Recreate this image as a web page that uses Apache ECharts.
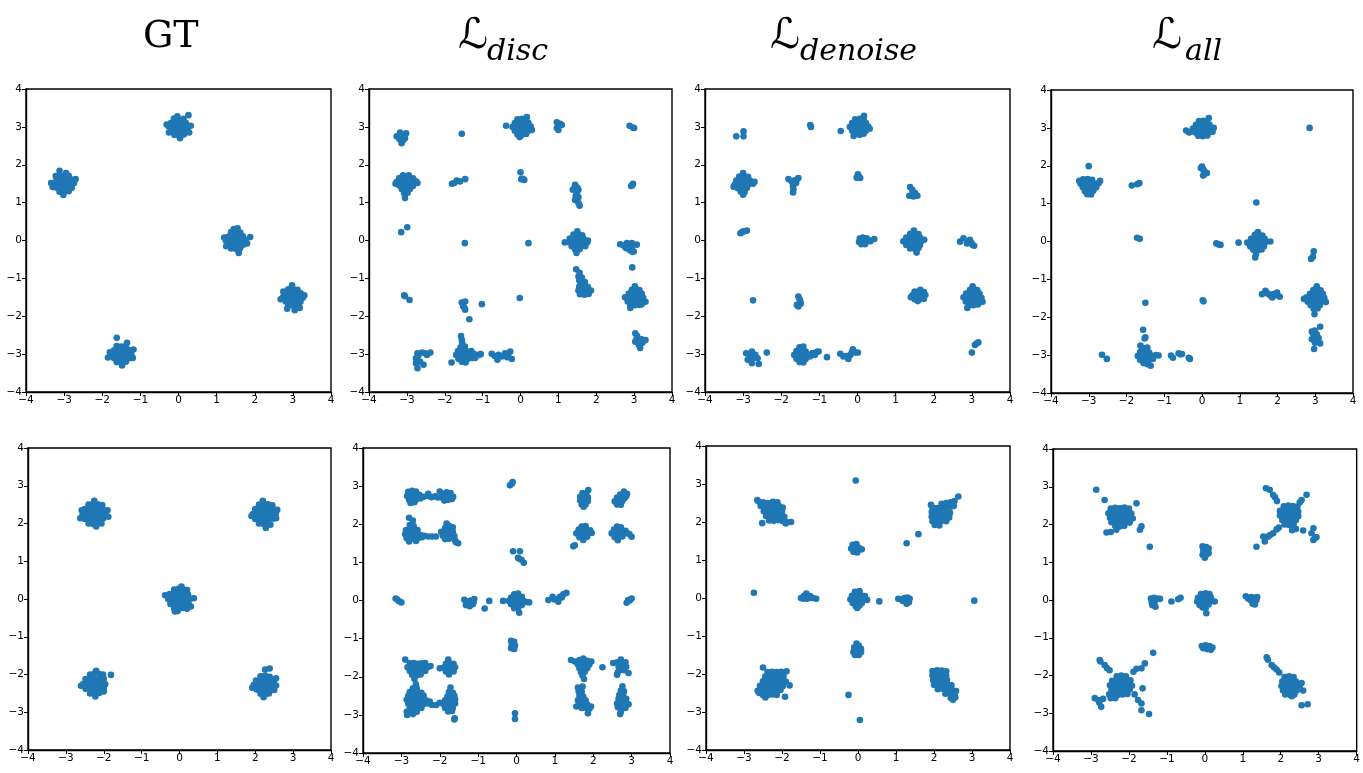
<!DOCTYPE html>
<html><head><meta charset="utf-8">
<script src="https://cdn.jsdelivr.net/npm/echarts@6/dist/echarts.min.js"></script>
<style>html,body{margin:0;padding:0;background:#fff}#c{width:1363px;height:773px}</style>
</head><body><div id="c"></div>
<script>
// ---- data ----
const tickValues = [-4, -3, -2, -1, 0, 1, 2, 3, 4];
const titleMain = ['GT', 'ℒ', 'ℒ', 'ℒ'];
const titleSub = ['', 'disc', 'denoise', 'all'];

const gtTop = [
[-0.12,3.22],[0.0,3.2],[0.13,3.21],[-0.2,3.1],[-0.07,3.12],[0.06,3.09],[0.19,3.11],[-0.26,3.01],[-0.13,2.99],[0.0,3.0],[0.12,3.02],[0.25,2.99],[-0.19,2.9],[-0.06,2.88],[0.07,2.91],[0.2,2.89],[-0.11,2.79],[0.01,2.77],[0.14,2.8],[0.26,3.31],[0.32,3.03],[-0.31,3.06],[0.04,2.7],[-0.03,3.28],[0.28,2.85],[-0.25,2.85],
[-3.12,1.72],[-3.0,1.7],[-2.88,1.71],[-3.2,1.6],[-3.07,1.62],[-2.94,1.59],[-2.81,1.61],[-3.26,1.5],[-3.13,1.49],[-3.0,1.51],[-2.87,1.5],[-2.74,1.52],[-3.19,1.39],[-3.06,1.41],[-2.93,1.4],[-2.8,1.39],[-3.12,1.29],[-3.0,1.28],[-2.88,1.3],[-3.12,1.84],[-3.34,1.52],[-3.3,1.41],[-2.7,1.62],[-3.02,1.2],[-2.95,1.78],[-3.22,1.7],
[1.38,0.22],[1.5,0.2],[1.62,0.21],[1.3,0.1],[1.43,0.12],[1.56,0.09],[1.69,0.11],[1.24,0.0],[1.37,-0.01],[1.5,0.01],[1.63,0.0],[1.76,0.01],[1.31,-0.11],[1.44,-0.09],[1.57,-0.1],[1.7,-0.11],[1.38,-0.21],[1.5,-0.22],[1.62,-0.2],[1.88,0.09],[1.55,0.32],[1.58,-0.33],[1.2,0.08],[1.8,-0.08],[1.45,0.3],[1.25,-0.15],
[2.88,-1.29],[3.0,-1.28],[3.12,-1.3],[2.81,-1.4],[2.94,-1.38],[3.07,-1.41],[3.2,-1.39],[2.74,-1.5],[2.87,-1.51],[3.0,-1.49],[3.13,-1.5],[3.26,-1.51],[2.81,-1.61],[2.94,-1.59],[3.07,-1.6],[3.2,-1.62],[2.88,-1.71],[3.0,-1.72],[3.12,-1.7],[2.98,-1.18],[3.3,-1.45],[2.68,-1.55],[3.05,-1.84],[2.85,-1.8],[3.18,-1.78],[2.75,-1.35],
[-1.62,-2.79],[-1.5,-2.8],[-1.38,-2.78],[-1.69,-2.9],[-1.56,-2.88],[-1.43,-2.91],[-1.3,-2.89],[-1.75,-3.0],[-1.62,-3.01],[-1.5,-2.99],[-1.37,-3.0],[-1.24,-3.01],[-1.69,-3.11],[-1.56,-3.09],[-1.43,-3.1],[-1.3,-3.11],[-1.62,-3.21],[-1.5,-3.22],[-1.38,-3.2],[-1.62,-2.57],[-1.85,-3.09],[-1.18,-2.88],[-1.48,-3.3],[-1.2,-3.1],[-1.8,-2.95],[-1.35,-2.7]
];

const discTop = [
[-3.27,2.75],[-3.18,2.85],[-3.02,2.83],[-3.14,2.57],[-3.05,2.7],[-3.2,2.68],[-3.1,2.65],[-3.08,2.78],
[-3.2,1.65],[-3.08,1.67],[-2.96,1.66],[-2.84,1.64],[-3.27,1.55],[-3.14,1.56],[-3.02,1.54],[-2.9,1.55],[-2.76,1.56],[-3.2,1.45],[-3.08,1.44],[-2.96,1.46],[-2.84,1.44],[-3.13,1.35],[-3.02,1.34],[-2.92,1.36],[-3.07,1.25],[-2.98,1.26],[-3.05,1.12],[-2.72,1.52],[-3.3,1.5],[-3.1,1.72],[-2.95,1.72],
[-3.15,0.22],[-2.99,0.35],[-3.07,-1.45],[-3.05,-1.47],[-2.93,-1.57],
[-2.72,-2.98],[-2.6,-2.96],[-2.38,-2.96],[-2.47,-3.02],[-2.76,-3.11],[-2.72,-3.37],[-2.56,-3.28],[-2.65,-3.2],[-2.76,-3.24],[-2.7,-3.05],[-2.52,-2.98],
[-1.58,-2.82],[-1.47,-2.8],[-1.65,-2.92],[-1.53,-2.9],[-1.41,-2.93],[-1.3,-2.92],[-1.7,-3.02],[-1.58,-3.0],[-1.46,-3.03],[-1.34,-3.01],[-1.22,-3.0],[-1.1,-3.02],[-1.64,-3.12],[-1.52,-3.11],[-1.4,-3.13],[-1.28,-3.1],[-1.55,-3.2],[-1.45,-3.22],[-1.57,-2.52],[-1.55,-2.62],[-1.54,-2.7],[-1.82,-3.22],[-1.05,-3.0],[-1.2,-3.1],
[-1.81,1.5],[-1.75,1.52],[-1.68,1.58],[-1.6,1.56],[-1.46,1.62],[-1.55,2.82],[-1.47,-0.07],
[-1.55,-1.64],[-1.46,-1.61],[-1.51,-1.74],[-1.46,-1.83],[-1.35,-2.08],[-1.02,-1.68],[-1.48,-1.78],
[-0.76,-2.99],[-0.58,-3.02],[-0.61,-3.15],[-0.41,-2.98],[-0.32,-3.0],[-0.23,-3.13],[-0.27,-2.93],[-0.49,-3.06],[-0.68,-3.05],[-0.35,-3.08],
[-0.08,3.2],[0.04,3.21],[0.14,3.19],[-0.15,3.1],[-0.03,3.11],[0.09,3.09],[0.21,3.1],[-0.21,3.0],[-0.09,3.01],[0.03,2.99],[0.15,3.0],[0.27,3.01],[-0.15,2.9],[-0.03,2.89],[0.09,2.91],[0.21,2.9],[-0.08,2.8],[0.04,2.79],[0.15,2.81],[-0.38,3.03],[0.17,3.26],[0.3,2.92],[-0.02,2.73],
[0.0,1.8],[0.02,1.62],[0.1,1.6],[0.06,1.63],[0.21,-0.07],[-0.02,-1.52],
[0.96,3.12],[1.05,3.08],[0.96,2.97],[1.0,2.92],[1.09,3.05],[1.0,3.02],
[1.44,1.47],[1.38,1.34],[1.49,1.25],[1.53,1.14],[1.44,1.07],[1.53,0.99],[1.56,0.92],[1.42,1.38],[1.53,1.34],[1.46,1.18],[1.5,1.4],
[1.4,0.16],[1.52,0.17],[1.63,0.14],[1.3,0.05],[1.42,0.06],[1.54,0.04],[1.66,0.05],[1.17,-0.05],[1.28,-0.04],[1.4,-0.05],[1.52,-0.06],[1.64,-0.04],[1.76,-0.05],[1.35,-0.15],[1.47,-0.16],[1.59,-0.14],[1.71,-0.15],[1.44,-0.24],[1.56,-0.23],[1.48,-0.33],[1.5,0.24],[1.78,0.0],
[1.47,-0.76],
[1.58,-1.12],[1.7,-1.1],[1.55,-1.22],[1.66,-1.21],[1.78,-1.23],[1.53,-1.32],[1.64,-1.31],[1.76,-1.33],[1.86,-1.32],[1.57,-1.42],[1.69,-1.43],[1.8,-1.41],[1.53,-0.95],[1.56,-0.85],[1.58,-1.03],[1.62,-0.98],[1.55,-1.05],
[2.88,3.03],[3.0,2.97],[2.97,2.98],[2.92,1.44],[2.97,1.5],[2.95,1.46],
[2.63,-0.1],[2.72,-0.13],[2.85,-0.16],[2.94,-0.07],[2.88,-0.25],[2.99,-0.29],[3.07,-0.11],[2.94,-0.2],[2.81,-0.07],[2.9,-0.12],[2.95,-0.3],[2.78,-0.2],
[2.95,-0.71],
[2.94,-1.3],[3.05,-1.28],[3.14,-1.31],[2.86,-1.4],[2.98,-1.39],[3.1,-1.41],[3.2,-1.4],[2.76,-1.5],[2.88,-1.51],[3.0,-1.49],[3.12,-1.5],[3.24,-1.51],[2.83,-1.61],[2.95,-1.59],[3.07,-1.6],[3.19,-1.61],[3.3,-1.62],[2.9,-1.7],[3.02,-1.71],[3.14,-1.7],[3.02,-1.21],[2.9,-1.78],[3.2,-1.68],
[3.03,-2.45],[3.07,-2.58],[3.2,-2.61],[3.3,-2.63],[3.12,-2.75],[3.16,-2.84],[3.03,-2.67],[3.12,-2.62],[3.22,-2.7],[3.08,-2.52]
];

const denoiseTop = [
[-3.18,2.75],[-2.99,2.88],[-2.99,2.75],
[-3.1,1.69],[-2.98,1.7],[-2.87,1.68],[-3.18,1.58],[-3.06,1.59],[-2.94,1.57],[-2.82,1.58],[-3.22,1.48],[-3.1,1.47],[-2.98,1.49],[-2.86,1.48],[-2.74,1.5],[-3.14,1.38],[-3.02,1.37],[-2.9,1.39],[-3.06,1.29],[-2.96,1.28],[-3.0,1.21],[-2.7,1.55],[-3.25,1.42],[-3.0,1.78],
[-3.07,0.19],[-2.99,0.24],[-2.9,0.26],[-3.03,0.22],[-2.74,-1.58],
[-2.92,-2.98],[-2.77,-2.93],[-2.68,-3.02],[-2.81,-3.06],[-2.88,-3.15],[-2.77,-3.24],[-2.59,-3.26],[-2.62,-3.11],[-2.38,-2.96],[-2.72,-3.1],
[-1.81,1.62],[-1.66,1.58],[-1.55,1.65],[-1.69,1.43],[-1.69,1.27],[-1.61,1.52],[-1.72,1.55],[-1.6,1.6],[-1.68,1.35],
[-1.24,3.05],[-1.22,3.0],
[-1.55,-1.48],[-1.5,-1.61],[-1.55,-1.74],[-1.49,-1.67],[-1.59,-1.7],[-1.52,-1.55],
[-1.52,-2.82],[-1.42,-2.8],[-1.6,-2.92],[-1.48,-2.9],[-1.36,-2.93],[-1.66,-3.02],[-1.54,-3.0],[-1.42,-3.03],[-1.3,-3.01],[-1.18,-2.97],[-1.06,-2.94],[-1.6,-3.12],[-1.48,-3.11],[-1.36,-3.13],[-1.25,-3.06],[-1.52,-3.21],[-1.42,-3.22],[-0.8,-3.08],[-1.02,-2.93],[-1.12,-3.02],
[-0.45,-2.99],[-0.37,-3.06],[-0.19,-3.02],[-0.12,-2.87],[-0.06,-2.96],[-0.24,-3.13],[0.01,-2.96],[-0.3,-3.05],[-0.15,-2.95],
[-0.44,2.89],
[-0.06,3.2],[0.06,3.21],[0.16,3.19],[-0.14,3.1],[-0.02,3.11],[0.1,3.09],[0.22,3.1],[-0.2,3.0],[-0.08,3.01],[0.04,2.99],[0.16,3.0],[0.28,3.01],[-0.14,2.9],[-0.02,2.89],[0.1,2.91],[0.22,2.9],[-0.06,2.81],[0.06,2.79],[0.16,2.82],[0.17,3.29],[0.32,2.95],[-0.1,2.76],
[0.01,1.75],[-0.02,1.66],[0.07,1.65],[0.03,1.7],
[0.06,0.05],[0.14,0.08],[0.24,0.06],[0.04,-0.04],[0.12,-0.02],[0.22,-0.03],[0.3,0.01],[0.1,-0.1],[0.2,-0.1],[0.44,0.04],[0.34,-0.02],
[1.38,1.41],[1.44,1.34],[1.36,1.18],[1.51,1.25],[1.57,1.18],[1.47,1.16],[1.45,1.25],
[1.38,0.18],[1.5,0.2],[1.6,0.17],[1.28,0.08],[1.4,0.09],[1.52,0.07],[1.64,0.08],[1.2,-0.02],[1.32,-0.01],[1.44,-0.03],[1.56,-0.02],[1.68,-0.01],[1.28,-0.12],[1.4,-0.11],[1.52,-0.13],[1.64,-0.12],[1.38,-0.21],[1.5,-0.22],[1.6,-0.2],[1.55,-0.32],[1.75,0.02],[1.48,0.26],
[1.5,-1.35],[1.62,-1.34],[1.74,-1.36],[1.44,-1.45],[1.56,-1.44],[1.68,-1.46],[1.78,-1.44],[1.5,-1.55],[1.62,-1.56],[1.74,-1.54],[1.4,-1.5],[1.65,-1.3],[1.58,-1.6],
[2.69,-0.03],[2.78,0.06],[2.91,-0.03],[2.99,-0.07],[3.06,-0.14],[2.95,0.02],[2.87,-0.08],[3.02,-0.12],
[2.95,-1.3],[3.05,-1.28],[3.14,-1.31],[2.85,-1.4],[2.97,-1.39],[3.09,-1.41],[3.2,-1.4],[2.78,-1.5],[2.9,-1.51],[3.02,-1.49],[3.14,-1.5],[3.25,-1.51],[2.84,-1.61],[2.96,-1.59],[3.08,-1.6],[3.2,-1.61],[2.92,-1.7],[3.04,-1.71],[3.16,-1.69],[3.02,-1.21],[2.88,-1.78],[3.28,-1.62],
[3.0,-2.96],[3.08,-2.76],[3.17,-2.69],[3.12,-2.72]
];

const allTop = [
[-3.15,1.64],[-3.03,1.65],[-2.91,1.63],[-3.22,1.53],[-3.1,1.54],[-2.98,1.52],[-2.86,1.53],[-2.74,1.54],[-3.16,1.43],[-3.04,1.42],[-2.92,1.44],[-2.8,1.43],[-3.1,1.33],[-2.98,1.32],[-2.88,1.34],[-3.04,1.25],[-2.94,1.24],[-3.0,1.99],[-3.25,1.6],[-2.7,1.6],
[-1.86,1.48],[-1.72,1.51],[-1.66,1.54],[-1.72,0.1],[-1.65,0.07],[-1.5,-1.62],
[-1.56,-2.82],[-1.45,-2.8],[-1.64,-2.92],[-1.52,-2.9],[-1.4,-2.93],[-1.7,-3.02],[-1.58,-3.0],[-1.46,-3.03],[-1.34,-3.01],[-1.22,-3.0],[-1.64,-3.12],[-1.52,-3.11],[-1.4,-3.13],[-1.3,-3.1],[-1.55,-3.21],[-1.44,-3.24],[-1.36,-3.28],[-1.56,-2.33],[-1.5,-2.53],[-1.52,-2.56],[-1.63,-2.75],[-1.15,-3.01],
[-2.65,-2.99],[-2.52,-3.1],
[-0.82,-3.01],[-0.77,-3.07],[-0.62,-2.95],[-0.53,-2.97],[-0.35,-3.07],[-0.58,-2.98],[-0.32,-3.1],
[-0.08,3.18],[0.04,3.19],[0.14,3.17],[-0.16,3.08],[-0.04,3.09],[0.08,3.07],[0.2,3.08],[-0.24,2.98],[-0.12,2.99],[0.0,2.97],[0.12,2.98],[0.24,2.99],[-0.34,2.88],[-0.18,2.88],[-0.06,2.87],[0.06,2.89],[0.18,2.88],[0.28,2.9],[-0.1,2.79],[0.02,2.78],[0.14,2.8],[0.18,3.26],[-0.42,2.93],[0.31,3.0],
[0.0,1.98],[0.04,1.89],[0.09,1.83],[0.13,1.81],[0.03,1.74],[-0.03,1.94],[0.07,1.78],[0.02,1.92],
[0.02,-1.55],[0.04,-1.58],[0.38,-0.05],[0.44,-0.08],[0.49,-0.09],[0.97,-0.03],[1.44,1.03],
[1.4,0.18],[1.5,0.19],[1.6,0.16],[1.3,0.07],[1.42,0.08],[1.54,0.06],[1.66,0.07],[1.2,-0.03],[1.32,-0.02],[1.44,-0.04],[1.56,-0.03],[1.68,-0.02],[1.28,-0.13],[1.4,-0.12],[1.52,-0.14],[1.64,-0.13],[1.36,-0.22],[1.48,-0.23],[1.58,-0.21],[1.41,-0.42],[1.43,-0.33],[1.81,0.0],[1.48,0.25],
[1.68,-1.3],[1.77,-1.39],[1.9,-1.39],[1.99,-1.35],[2.06,-1.46],[1.86,-1.48],[1.59,-1.39],[1.72,-1.36],[1.95,-1.42],[1.82,-1.43],
[2.85,3.0],[2.96,-0.26],[2.94,-0.4],[2.89,-0.46],
[2.95,-1.28],[3.05,-1.26],[3.14,-1.29],[2.86,-1.38],[2.98,-1.37],[3.1,-1.39],[3.2,-1.38],[2.76,-1.48],[2.88,-1.49],[3.0,-1.47],[3.12,-1.48],[3.24,-1.49],[2.8,-1.59],[2.92,-1.57],[3.04,-1.58],[3.16,-1.59],[3.28,-1.6],[2.88,-1.68],[3.0,-1.69],[3.12,-1.68],[2.96,-1.78],[3.06,-1.77],[3.04,-1.18],[2.98,-1.92],[2.7,-1.52],
[3.13,-2.25],[2.91,-2.38],[2.99,-2.35],[3.04,-2.45],[2.91,-2.58],[2.99,-2.67],[3.13,-2.69],[2.97,-2.84],[3.09,-2.55],[3.02,-2.6],[2.95,-2.45]
];

const gtBottom = [
[-2.4,2.5],[-2.28,2.52],[-2.16,2.51],[-2.04,2.49],[-2.5,2.38],[-2.38,2.37],[-2.26,2.39],[-2.14,2.38],[-2.02,2.37],[-2.56,2.25],[-2.44,2.24],[-2.32,2.26],[-2.2,2.25],[-2.08,2.24],[-1.96,2.26],[-2.5,2.12],[-2.38,2.13],[-2.26,2.11],[-2.14,2.12],[-2.02,2.13],[-2.4,2.0],[-2.28,1.99],[-2.16,2.01],[-2.06,2.0],[-2.62,2.14],[-1.88,2.18],[-2.25,2.6],[-2.2,1.92],[-1.9,2.35],[-2.58,2.35],
[2.1,2.5],[2.22,2.52],[2.34,2.51],[2.45,2.48],[2.0,2.38],[2.12,2.37],[2.24,2.39],[2.36,2.38],[2.48,2.37],[1.94,2.25],[2.06,2.24],[2.18,2.26],[2.3,2.25],[2.42,2.24],[2.54,2.26],[2.0,2.12],[2.12,2.13],[2.24,2.11],[2.36,2.12],[2.48,2.13],[2.1,2.0],[2.22,1.99],[2.34,2.01],[2.28,1.88],[1.9,2.2],[2.58,2.36],[2.55,2.14],[2.2,2.6],[2.4,1.97],
[-0.14,0.25],[-0.02,0.27],[0.1,0.26],[0.2,0.24],[-0.26,0.13],[-0.14,0.12],[-0.02,0.14],[0.1,0.13],[0.22,0.12],[-0.3,0.0],[-0.18,-0.01],[-0.06,0.01],[0.06,0.0],[0.18,-0.01],[0.3,0.01],[-0.24,-0.13],[-0.12,-0.12],[0.0,-0.14],[0.12,-0.13],[0.24,-0.12],[-0.14,-0.25],[-0.02,-0.26],[0.1,-0.24],[0.2,-0.26],[-0.38,0.1],[0.38,0.02],[-0.12,-0.33],[0.05,0.33],[0.3,-0.2],[-0.05,-0.32],
[-2.36,-2.0],[-2.24,-1.97],[-2.12,-1.99],[-2.02,-2.0],[-2.48,-2.12],[-2.36,-2.11],[-2.24,-2.13],[-2.12,-2.12],[-2.0,-2.11],[-2.54,-2.25],[-2.42,-2.24],[-2.3,-2.26],[-2.18,-2.25],[-2.06,-2.24],[-1.96,-2.26],[-2.48,-2.38],[-2.36,-2.37],[-2.24,-2.39],[-2.12,-2.38],[-2.0,-2.37],[-2.36,-2.5],[-2.24,-2.51],[-2.12,-2.49],[-1.81,-2.01],[-2.2,-1.9],[-2.6,-2.3],[-2.22,-2.58],[-2.0,-2.45],
[2.14,-2.05],[2.26,-2.03],[2.38,-2.06],[2.02,-2.16],[2.14,-2.15],[2.26,-2.17],[2.38,-2.16],[2.5,-2.15],[1.96,-2.28],[2.08,-2.27],[2.2,-2.29],[2.32,-2.28],[2.44,-2.27],[2.55,-2.29],[2.04,-2.4],[2.16,-2.41],[2.28,-2.39],[2.4,-2.4],[2.5,-2.41],[2.14,-2.51],[2.26,-2.53],[2.36,-2.5],[2.26,-1.87],[2.38,-1.84],[2.22,-2.6],[2.55,-2.1],[1.92,-2.35]
];

const discBottom = [
[-2.82,2.85],[-2.72,2.88],[-2.62,2.86],[-2.85,2.74],[-2.74,2.76],[-2.63,2.75],[-2.53,2.77],[-2.8,2.64],[-2.7,2.65],[-2.6,2.66],[-2.5,2.68],[-2.76,2.56],[-2.66,2.58],
[-2.42,2.72],[-2.32,2.74],[-2.22,2.71],[-2.12,2.73],[-2.05,2.7],[-2.0,2.86],[-2.3,2.8],
[-1.92,2.8],[-1.82,2.84],[-1.72,2.82],[-1.95,2.7],[-1.85,2.72],[-1.75,2.74],[-1.65,2.72],[-1.88,2.62],[-1.78,2.64],[-1.68,2.66],
[-2.8,2.17],[-2.7,2.1],[-2.78,1.98],[-2.68,1.95],[-2.88,1.85],[-2.78,1.86],[-2.68,1.84],[-2.58,1.85],[-2.9,1.74],[-2.8,1.74],[-2.7,1.76],[-2.6,1.73],[-2.5,1.72],[-2.4,1.7],[-2.3,1.68],[-2.86,1.63],[-2.76,1.64],[-2.66,1.62],[-2.56,1.64],[-2.46,1.66],[-2.8,1.55],[-2.62,1.56],[-2.2,1.68],[-2.1,1.68],
[-1.82,2.02],[-1.76,1.96],[-1.86,1.9],[-1.74,1.88],[-1.66,1.92],[-1.96,1.8],[-1.86,1.8],[-1.76,1.79],[-1.66,1.8],[-1.92,1.7],[-1.82,1.7],[-1.72,1.71],[-1.62,1.69],[-1.86,1.61],[-1.76,1.62],[-1.6,1.58],[-1.52,1.5],[-1.58,1.53],
[-3.15,0.05],[-3.06,-0.02],[-3.0,-0.05],[-3.1,0.02],
[-1.36,0.02],[-1.28,-0.04],[-1.2,0.0],[-1.12,-0.06],[-1.32,-0.12],[-1.22,-0.15],[-1.14,-0.1],[-0.83,-0.21],[-0.71,-0.01],[-0.35,-0.01],[-1.1,0.04],
[-0.06,0.16],[0.04,0.18],[-0.14,0.08],[-0.04,0.09],[0.06,0.08],[0.14,0.1],[-0.2,-0.01],[-0.1,0.0],[0.0,-0.02],[0.1,0.0],[0.2,-0.02],[-0.14,-0.1],[-0.04,-0.11],[0.06,-0.1],[0.14,-0.12],[-0.06,-0.2],[0.04,-0.19],[0.07,-0.32],[0.33,-0.05],[0.25,-0.04],
[-0.09,1.29],[0.09,1.29],[0.04,1.12],[0.13,1.07],[0.19,0.99],[0.06,1.1],
[-0.17,3.02],[-0.1,3.11],[-0.12,3.07],
[-0.14,-1.06],[-0.06,-1.08],[-0.12,-1.16],[-0.04,-1.18],[-0.14,-1.25],[-0.06,-1.27],[-0.1,-1.2],
[-0.04,-2.96],[-0.04,-3.11],
[0.83,0.01],[0.94,0.1],[1.04,0.03],[1.13,0.1],[1.22,0.16],[1.3,0.2],[1.09,-0.03],[0.98,0.03],[1.18,0.08],
[2.87,-0.06],[2.91,0.01],[3.0,0.05],[2.95,0.0],
[1.87,2.9],[1.72,2.82],[1.82,2.8],[1.66,2.72],[1.76,2.73],[1.86,2.71],[1.66,2.62],[1.76,2.62],[1.86,2.61],[1.7,2.52],[1.8,2.52],[1.75,2.46],
[2.8,2.86],[2.88,2.8],[2.7,2.78],[2.8,2.76],[2.62,2.7],[2.72,2.68],[2.82,2.69],[2.56,2.6],[2.66,2.6],[2.76,2.61],[2.62,2.52],[2.72,2.51],[2.86,2.74],
[1.7,1.94],[1.8,1.95],[1.62,1.86],[1.72,1.85],[1.82,1.87],[1.92,1.84],[1.56,1.76],[1.66,1.77],[1.76,1.75],[1.86,1.76],[1.96,1.77],[1.64,1.66],[1.74,1.66],[1.84,1.67],[1.74,1.59],[1.48,1.42],[1.52,1.45],
[2.62,1.94],[2.72,1.92],[2.54,1.86],[2.64,1.85],[2.74,1.84],[2.84,1.83],[2.48,1.76],[2.58,1.76],[2.68,1.75],[2.78,1.76],[2.88,1.77],[2.56,1.66],[2.66,1.67],[2.76,1.68],[2.64,1.58],[3.0,1.67],[2.94,1.74],
[-2.9,-1.55],[-2.78,-1.65],[-2.68,-1.64],[-2.58,-1.66],[-2.48,-1.65],[-2.38,-1.64],[-2.84,-1.75],[-2.74,-1.74],[-2.64,-1.76],[-2.54,-1.75],[-2.44,-1.74],[-2.32,-1.75],[-2.24,-1.72],[-2.78,-1.85],[-2.68,-1.86],[-2.58,-1.84],[-2.48,-1.86],[-2.38,-1.85],[-2.72,-1.95],[-2.6,-1.96],[-2.5,-1.94],[-2.66,-2.06],
[-1.78,-1.55],[-1.84,-1.66],[-1.74,-1.65],[-1.64,-1.66],[-1.9,-1.76],[-1.8,-1.75],[-1.7,-1.76],[-1.6,-1.75],[-1.84,-1.86],[-1.74,-1.85],[-1.64,-1.86],[-1.76,-1.94],[-2.0,-1.78],
[-2.62,-2.2],[-2.7,-2.3],[-2.6,-2.31],[-2.78,-2.4],[-2.68,-2.41],[-2.58,-2.4],[-2.48,-2.42],[-2.82,-2.5],[-2.72,-2.51],[-2.62,-2.5],[-2.52,-2.51],[-2.42,-2.5],[-2.86,-2.6],[-2.76,-2.61],[-2.66,-2.6],[-2.56,-2.61],[-2.46,-2.6],[-2.36,-2.62],[-2.82,-2.7],[-2.72,-2.71],[-2.62,-2.7],[-2.52,-2.71],[-2.42,-2.72],[-2.3,-2.7],[-2.78,-2.8],[-2.68,-2.81],[-2.58,-2.8],[-2.48,-2.82],[-2.86,-2.92],[-2.72,-2.9],[-2.6,-2.92],[-2.85,-3.0],[-2.7,-2.98],[-2.2,-2.74],[-2.09,-2.74],[-2.0,-2.68],[-2.26,-2.65],
[-1.72,-2.28],[-1.76,-2.4],[-1.66,-2.42],[-1.8,-2.52],[-1.7,-2.51],[-1.62,-2.5],[-1.86,-2.62],[-1.76,-2.61],[-1.66,-2.62],[-1.6,-2.6],[-1.9,-2.72],[-1.8,-2.71],[-1.7,-2.72],[-1.6,-2.7],[-1.86,-2.82],[-1.76,-2.81],[-1.66,-2.82],[-1.78,-2.91],[-1.68,-2.9],[-1.61,-3.09],[-1.62,-3.12],
[1.42,-1.56],[1.52,-1.6],[1.64,-1.56],[1.74,-1.52],[1.84,-1.58],[1.95,-1.6],[1.6,-1.68],[1.7,-1.66],[1.8,-1.67],[1.9,-1.68],[1.64,-1.78],[1.74,-1.77],[1.84,-1.78],[1.68,-1.88],[1.78,-1.87],[1.72,-1.97],[1.76,-2.06],[2.24,-1.75],
[2.72,-1.55],[2.62,-1.62],[2.74,-1.63],[2.84,-1.62],[2.52,-1.64],[2.66,-1.73],[2.76,-1.72],[2.86,-1.74],[2.7,-1.82],[2.8,-1.83],[2.92,-1.9],[2.62,-1.95],[2.64,-1.88],
[1.6,-2.28],[1.72,-2.26],[1.62,-2.38],[1.7,-2.4],[1.64,-2.5],[1.74,-2.52],[1.6,-2.62],[1.7,-2.6],[1.8,-2.62],[1.64,-2.72],[1.74,-2.7],[1.84,-2.72],[1.94,-2.78],[1.7,-2.82],[1.8,-2.81],[1.9,-2.84],[1.86,-2.96],[1.56,-2.78],
[2.76,-2.25],[2.72,-2.36],[2.8,-2.38],[2.68,-2.48],[2.78,-2.48],[2.66,-2.58],[2.76,-2.6],[2.86,-2.58],[2.62,-2.7],[2.72,-2.7],[2.82,-2.71],[2.92,-2.72],[2.64,-2.8],[2.74,-2.81],[2.84,-2.82],[2.72,-2.92],[2.7,-2.98]
];

const denoiseBottom = [
[-2.62,2.54],[-2.5,2.52],[-2.38,2.5],[-2.24,2.53],[-2.12,2.52],[-2.56,2.42],[-2.44,2.4],[-2.32,2.41],[-2.2,2.4],[-2.08,2.42],[-1.98,2.38],[-2.48,2.28],[-2.36,2.27],[-2.24,2.29],[-2.12,2.28],[-2.0,2.27],[-2.42,2.16],[-2.3,2.15],[-2.18,2.17],[-2.06,2.16],[-1.94,2.14],[-2.34,2.04],[-2.22,2.03],[-2.1,2.05],[-1.98,2.02],[-1.86,2.0],[-1.76,2.0],[-2.52,1.97],[-2.65,2.58],[-1.9,1.96],
[2.2,2.48],[2.32,2.5],[2.44,2.52],[2.54,2.55],[1.96,2.38],[2.08,2.37],[2.2,2.39],[2.32,2.38],[2.44,2.4],[1.94,2.26],[2.06,2.25],[2.18,2.27],[2.3,2.26],[2.42,2.24],[1.94,2.14],[2.06,2.13],[2.18,2.15],[2.3,2.14],[2.4,2.12],[1.96,2.02],[2.08,2.01],[2.2,2.03],[2.32,2.02],[2.02,1.92],[2.14,1.91],[2.64,2.67],[2.52,2.42],[1.92,2.45],
[1.28,1.44],[1.59,1.68],[-0.06,3.09],
[-0.14,1.4],[-0.04,1.42],[-0.18,1.3],[-0.08,1.31],[0.02,1.32],[0.1,1.28],[-0.12,1.22],[-0.02,1.2],
[-2.74,0.14],
[-1.5,0.0],[-1.42,0.06],[-1.36,0.12],[-1.32,0.04],[-1.24,0.0],[-1.44,-0.02],[-1.34,-0.02],[-1.26,0.05],[-1.1,-0.02],[-1.18,0.0],
[-0.08,0.16],[0.04,0.18],[-0.16,0.06],[-0.04,0.08],[0.08,0.07],[0.18,0.05],[-0.2,-0.04],[-0.08,-0.03],[0.04,-0.04],[0.16,-0.03],[0.24,-0.05],[-0.14,-0.13],[-0.02,-0.14],[0.1,-0.13],[-0.06,-0.22],[0.04,-0.2],[-0.02,-0.26],
[0.56,-0.09],
[1.06,-0.02],[1.14,-0.04],[1.22,0.0],[1.3,0.01],[1.36,-0.02],[1.18,-0.08],[1.26,-0.1],[1.34,-0.11],[1.28,-0.15],
[3.06,-0.07],
[-0.04,-1.2],[0.02,-1.25],[-0.1,-1.3],[0.0,-1.32],[0.08,-1.34],[-0.12,-1.42],[-0.02,-1.43],[0.08,-1.42],[-0.08,-1.5],[0.02,-1.5],
[-2.38,-1.95],[-2.26,-1.94],[-2.14,-1.95],[-2.02,-1.94],[-1.88,-1.93],[-2.44,-2.07],[-2.32,-2.06],[-2.2,-2.08],[-2.08,-2.07],[-1.96,-2.06],[-2.5,-2.19],[-2.38,-2.18],[-2.26,-2.2],[-2.14,-2.19],[-2.02,-2.18],[-1.9,-2.2],[-2.58,-2.31],[-2.46,-2.3],[-2.34,-2.32],[-2.22,-2.31],[-2.1,-2.3],[-1.98,-2.32],[-1.8,-2.3],[-2.64,-2.44],[-2.52,-2.43],[-2.4,-2.42],[-2.28,-2.43],[-2.16,-2.44],[-2.04,-2.42],[-2.5,-2.55],[-2.38,-2.56],[-2.26,-2.54],[-2.14,-2.55],[-2.5,-1.83],[-1.92,-2.6],[-2.44,-2.62],[-2.6,-2.5],
[1.96,-1.92],[2.08,-1.9],[2.2,-1.91],[2.32,-1.93],[1.96,-2.04],[2.08,-2.03],[2.2,-2.05],[2.32,-2.04],[1.98,-2.16],[2.1,-2.15],[2.22,-2.17],[2.34,-2.16],[2.0,-2.28],[2.12,-2.27],[2.24,-2.29],[2.36,-2.28],[2.46,-2.3],[2.1,-2.4],[2.22,-2.39],[2.34,-2.41],[2.46,-2.4],[2.3,-2.52],[2.42,-2.51],[2.54,-2.53],[2.44,-2.63],[2.56,-2.62],[2.5,-2.68],[2.58,-2.45],
[-0.25,-2.55],[0.05,-3.21]
];

const allBottom = [
[-2.48,2.42],[-2.36,2.44],[-2.24,2.43],[-2.12,2.45],[-2.0,2.42],[-2.54,2.3],[-2.42,2.31],[-2.3,2.29],[-2.18,2.3],[-2.06,2.31],[-1.94,2.29],[-2.5,2.18],[-2.38,2.17],[-2.26,2.19],[-2.14,2.18],[-2.02,2.17],[-1.9,2.16],[-2.46,2.06],[-2.34,2.05],[-2.22,2.07],[-2.1,2.06],[-1.98,2.05],[-2.36,1.96],[-2.24,1.95],[-2.12,1.97],
[-2.86,2.92],[-2.64,2.65],[-1.8,2.56],[-2.59,1.79],[-2.48,1.8],[-2.33,1.86],[-1.67,1.95],[-1.71,1.86],[-1.45,1.41],
[2.08,2.48],[2.2,2.5],[2.32,2.49],[2.44,2.47],[1.98,2.36],[2.1,2.37],[2.22,2.35],[2.34,2.36],[2.46,2.34],[1.98,2.24],[2.1,2.23],[2.22,2.25],[2.34,2.24],[2.46,2.22],[2.04,2.12],[2.16,2.11],[2.28,2.13],[2.4,2.12],[2.1,2.0],[2.22,1.99],[2.34,2.0],
[1.61,2.96],[1.71,2.92],[1.85,2.72],[1.8,2.78],[1.9,2.62],[2.68,2.79],[2.55,2.65],[2.5,2.58],[1.36,1.41],[1.58,1.55],[1.67,1.68],[1.8,1.77],[1.89,1.87],[1.54,1.68],[1.72,1.72],[1.95,1.92],[2.59,1.84],[2.86,1.9],[2.81,1.77],[2.9,1.64],[2.86,1.59],[2.94,1.66],[2.4,1.88],[2.3,1.85],
[-0.06,1.42],[0.04,1.4],[0.1,1.36],[-0.04,1.32],[0.06,1.3],[-0.06,1.2],[0.04,1.2],[0.0,1.12],[0.1,1.24],
[-1.42,0.04],[-1.34,0.06],[-1.26,0.04],[-1.18,0.03],[-1.4,-0.06],[-1.32,-0.04],[-1.38,-0.14],[-1.3,-0.18],[-0.88,-0.04],[-0.7,0.02],[-0.64,0.06],
[-0.1,0.16],[0.02,0.18],[0.12,0.16],[-0.18,0.06],[-0.06,0.07],[0.06,0.06],[0.16,0.07],[-0.2,-0.04],[-0.08,-0.03],[0.04,-0.04],[0.14,-0.03],[-0.14,-0.13],[-0.02,-0.14],[0.1,-0.12],[-0.06,-0.2],[0.04,-0.35],[0.26,-0.04],[0.02,-0.22],
[1.08,0.1],[1.14,0.04],[1.2,0.0],[1.22,0.08],[1.3,0.06],[1.38,0.08],[1.28,-0.04],[1.36,0.0],[1.26,-0.1],[1.32,-0.12],
[-0.08,-1.22],[0.02,-1.2],[0.12,-1.22],[0.2,-1.26],[-0.04,-1.28],[0.06,-1.3],[0.16,-1.32],[0.08,-1.26],
[-2.32,-2.02],[-2.2,-2.0],[-2.08,-2.02],[-2.44,-2.14],[-2.32,-2.13],[-2.2,-2.15],[-2.08,-2.14],[-1.96,-2.13],[-2.5,-2.26],[-2.38,-2.25],[-2.26,-2.27],[-2.14,-2.26],[-2.02,-2.25],[-1.92,-2.27],[-2.46,-2.38],[-2.34,-2.37],[-2.22,-2.39],[-2.1,-2.38],[-1.98,-2.37],[-2.52,-2.5],[-2.4,-2.49],[-2.28,-2.51],[-2.16,-2.5],[-2.04,-2.49],[-2.48,-2.6],[-2.36,-2.6],
[-2.77,-1.59],[-2.75,-1.63],[-2.64,-1.72],[-2.51,-1.86],[-2.58,-1.8],[-1.58,-1.68],[-1.67,-1.81],[-1.8,-1.82],[-1.88,-1.9],[-1.36,-1.4],[-2.81,-2.65],[-2.73,-2.83],[-2.78,-2.72],[-2.68,-2.62],[-2.9,-2.6],[-1.76,-2.65],[-1.67,-2.74],[-1.67,-2.92],[-1.47,-3.02],[-1.64,-2.34],[-1.85,-2.5],
[2.1,-2.04],[2.22,-2.02],[2.34,-2.04],[2.04,-2.16],[2.16,-2.15],[2.28,-2.17],[2.4,-2.16],[2.02,-2.28],[2.14,-2.27],[2.26,-2.29],[2.38,-2.28],[2.5,-2.27],[2.06,-2.4],[2.18,-2.39],[2.3,-2.41],[2.42,-2.4],[2.12,-2.5],[2.24,-2.51],[2.36,-2.5],
[1.63,-1.52],[1.66,-1.58],[1.76,-1.72],[1.82,-1.78],[1.89,-1.84],[1.96,-1.92],[2.59,-2.4],[2.55,-2.79],[2.71,-2.76],[2.29,-2.55],[2.55,-2.2]
];

const panelData = [gtTop, discTop, denoiseTop, allTop, gtBottom, discBottom, denoiseBottom, allBottom];

// ---- layout ----
const gridBoxes = [
  {left:26, top:89, width:305, height:303},
  {left:369, top:89, width:303, height:303},
  {left:705, top:89, width:305, height:303},
  {left:1051, top:90, width:302, height:303},
  {left:28, top:448, width:303, height:302},
  {left:363, top:448, width:307, height:305},
  {left:706, top:446, width:304, height:304},
  {left:1053, top:449, width:304, height:302}
];
const titlePos = [
  {mx:143, my:37, sx:0, sy:0},
  {mx:458, my:37, sx:487, sy:52},
  {mx:770, my:37, sx:800, sy:52},
  {mx:1152, my:37, sx:1185, sy:52}
];

const fmt = v => (v < 0 ? '\u2212' + Math.abs(v) : String(v));
const blue = '#1f77b4';

const grids = gridBoxes.map(b => Object.assign({show:true, borderColor:'#000', borderWidth:1.4, backgroundColor:'transparent'}, b));
function axisCommon(i, dim) {
  return {
    gridIndex:i, type:'value', min:tickValues[0], max:tickValues[tickValues.length-1], interval:1,
    splitLine:{show:false},
    axisLine:{show:true, onZero:false, lineStyle:{color:'#000', width:1.4}},
    axisTick:{show:true, inside:false, length:4, lineStyle:{color:'#000', width:1}},
    axisLabel:{color:'#000', fontSize:10.5, fontFamily:'DejaVu Sans', margin: dim==='x'?3:4, formatter:fmt, showMinLabel:true, showMaxLabel:true}
  };
}
const xAxes = gridBoxes.map((b,i)=>axisCommon(i,'x'));
const yAxes = gridBoxes.map((b,i)=>axisCommon(i,'y'));
const series = panelData.map((d,i)=>({
  type:'scatter', xAxisIndex:i, yAxisIndex:i, data:d, symbolSize:6.6,
  itemStyle:{color:blue, opacity:1}, silent:true, animation:false
}));

const graphics = [];
titlePos.forEach((p,i)=>{
  if (i === 0) {
    graphics.push({type:'text', x:p.mx, y:p.my, style:{text:titleMain[i], fill:'#000', font:'38px "DejaVu Serif"', textAlign:'left', textVerticalAlign:'middle'}});
  } else {
    graphics.push({type:'text', x:p.mx, y:p.my, style:{text:titleMain[i], fill:'#000', font:'42px "DejaVu Sans", "DejaVu Serif"', textAlign:'left', textVerticalAlign:'middle'}});
    graphics.push({type:'text', x:p.sx, y:p.sy, style:{text:titleSub[i], fill:'#000', font:'italic 30px "DejaVu Serif"', textAlign:'left', textVerticalAlign:'middle'}});
  }
});

const chart = echarts.init(document.getElementById('c'), null, {renderer:'canvas'});
chart.setOption({
  animation:false,
  backgroundColor:'#fff',
  grid:grids, xAxis:xAxes, yAxis:yAxes, series:series,
  graphic:graphics
});
</script></body></html>
